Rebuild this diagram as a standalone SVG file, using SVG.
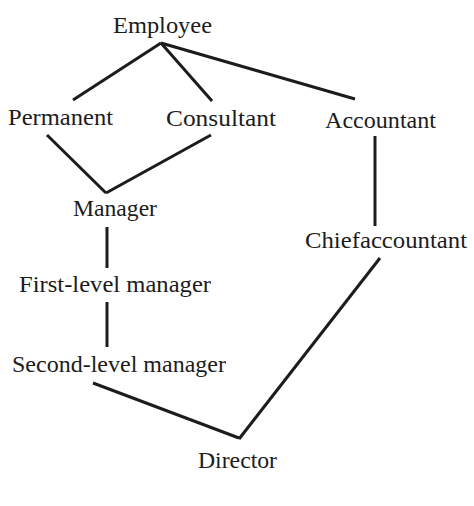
<svg xmlns="http://www.w3.org/2000/svg" width="474" height="506" viewBox="0 0 474 506">
<style>
.bg{fill:#ffffff}
.lbl{font-family:"Liberation Serif","Times New Roman",serif;font-size:24px;fill:#1c1c1c}
.edge{stroke:#1c1c1c;stroke-width:3;stroke-linecap:butt;fill:none}
</style>
<rect class="bg" x="0" y="0" width="474" height="506"/>
<g id="connectors">
<line class="edge" x1="161" y1="43" x2="73" y2="100"/>
<line class="edge" x1="161" y1="43" x2="212" y2="101"/>
<line class="edge" x1="161" y1="43" x2="355" y2="99"/>
<line class="edge" x1="47" y1="135" x2="106" y2="193"/>
<line class="edge" x1="211" y1="135" x2="106" y2="193"/>
<line class="edge" x1="375" y1="136" x2="375" y2="226"/>
<line class="edge" x1="107" y1="227" x2="107" y2="268"/>
<line class="edge" x1="107" y1="302" x2="107" y2="347"/>
<line class="edge" x1="93" y1="383" x2="239" y2="438"/>
<line class="edge" x1="380" y1="258" x2="239" y2="439"/>
</g>
<g id="employee"><text class="lbl" x="113" y="33" textLength="99" lengthAdjust="spacingAndGlyphs">Employee</text></g>
<g id="permanent"><text class="lbl" x="8" y="125" textLength="105" lengthAdjust="spacingAndGlyphs">Permanent</text></g>
<g id="consultant"><text class="lbl" x="166" y="126" textLength="110" lengthAdjust="spacingAndGlyphs">Consultant</text></g>
<g id="accountant"><text class="lbl" x="325" y="128" textLength="111" lengthAdjust="spacingAndGlyphs">Accountant</text></g>
<g id="manager"><text class="lbl" x="73" y="216" textLength="84" lengthAdjust="spacingAndGlyphs">Manager</text></g>
<g id="chiefaccountant"><text class="lbl" x="305" y="248" textLength="162" lengthAdjust="spacingAndGlyphs">Chiefaccountant</text></g>
<g id="first-level-manager"><text class="lbl" x="19" y="292" textLength="192" lengthAdjust="spacingAndGlyphs">First-level manager</text></g>
<g id="second-level-manager"><text class="lbl" x="12" y="372" textLength="214" lengthAdjust="spacingAndGlyphs">Second-level manager</text></g>
<g id="director"><text class="lbl" x="198" y="468" textLength="79" lengthAdjust="spacingAndGlyphs">Director</text></g>
</svg>
